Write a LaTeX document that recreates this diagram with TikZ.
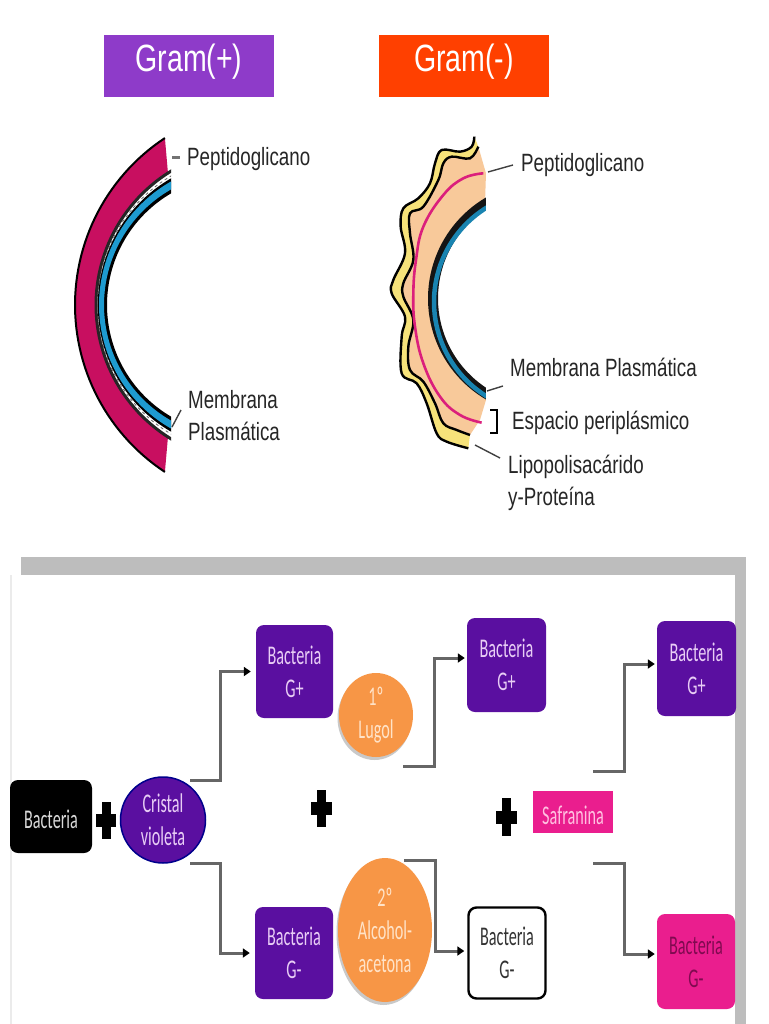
\documentclass[tikz,border=0pt]{standalone}
\usepackage{fontspec}
\setmainfont{Liberation Sans}
\newfontfamily\calib{Carlito}
\usetikzlibrary{arrows.meta,shadows,shapes.geometric}
\definecolor{gpos}{HTML}{8E3BC9}
\definecolor{gneg}{HTML}{FF4000}
\definecolor{wallm}{HTML}{C80F60}
\definecolor{memb}{HTML}{1E9BD0}
\definecolor{peach}{HTML}{F8C99A}
\definecolor{lps}{HTML}{F6E27A}
\definecolor{pgline}{HTML}{DB1F7C}
\definecolor{violetbox}{HTML}{5A0FA0}
\definecolor{lilac}{HTML}{E8CDF5}
\definecolor{orangeb}{HTML}{F79646}
\definecolor{paleor}{HTML}{FFE3C8}
\definecolor{safr}{HTML}{EA1E8E}
\definecolor{palepink}{HTML}{FFC0E0}
\definecolor{darkpink}{HTML}{800A50}
\definecolor{framegray}{HTML}{BDBDBD}
\newcommand{\hcond}[1]{\scalebox{.75}[1]{#1}}
\newcommand{\lcond}[1]{\scalebox{.6}[1]{#1}}
% a plus sign: centre x, centre y, overall width and height, arm thicknesses
\newcommand{\plusmark}[6]{%
  \fill[black] (#1-#3/2,#2-#6/2) rectangle (#1+#3/2,#2+#6/2);
  \fill[black] (#1-#5/2,#2-#4/2) rectangle (#1+#5/2,#2+#4/2);
}
\tikzset{
  header/.style={minimum width=170pt,minimum height=62pt,inner sep=0pt,text=white,
    font=\fontsize{38}{40}\selectfont},
  lbl/.style={anchor=west,inner sep=0pt,align=left,text=black!85,
    font=\fontsize{25}{32}\selectfont},
  leader/.style={draw=black!75,line width=1.4pt},
  stepbox/.style={rounded corners=8pt,inner sep=0pt,align=center,
    font=\calib\fontsize{27}{33}\selectfont},
  violetstep/.style={stepbox,fill=violetbox,text=lilac},
  softshadow/.style={drop shadow={shadow xshift=-1.5pt,shadow yshift=-3pt,fill=black!35,opacity=.6}},
  reagent/.style={ellipse,inner sep=0pt,align=center,fill=orangeb,text=paleor,
    font=\calib\fontsize{27}{33}\selectfont},
  conn/.style={draw=black!60,line width=3pt,
    -{Triangle[length=7pt,width=9pt,fill=black,color=black]}},
  ringline/.style={line width=2.4pt,black},
}
\begin{document}
\begin{tikzpicture}[x=1pt,y=-1pt]
\useasboundingbox[fill=white] (0,0) rectangle (768,1024);

% column titles
\node[header,fill=gpos] (tplus) at (189,66) {};
\node[text=white,inner sep=0pt,font=\fontsize{38}{40}\selectfont] (tplustxt) at (189,62) {\hcond{Gram(+)}};
\node[header,fill=gneg] (tminus) at (464,66) {};
\node[text=white,inner sep=0pt,font=\fontsize{38}{40}\selectfont] (tminustxt) at (464,62) {\hcond{Gram(-)}};

% Gram-positive envelope
\fill[wallm] plot[domain=123.4:236.6,samples=60] ({275+200*cos(\x)},{305+200*sin(\x)})
  -- plot[domain=237.2:122.8,samples=60] ({253+157*cos(\x)},{305+157*sin(\x)}) -- cycle;
\draw[line width=2pt,black] plot[domain=123.4:236.6,samples=60] ({275+200*cos(\x)},{305+200*sin(\x)});
\begin{scope}
  \clip (60,120) rectangle (171,490);
  \draw[line width=3pt,black!85] plot[domain=115:245,samples=60] ({253+157*cos(\x)},{305+157*sin(\x)});
  \draw[line width=.8pt,black!60,dash pattern=on 3pt off 3pt] plot[domain=115:245,samples=60] ({247.5+150*cos(\x)},{305+150*sin(\x)});
  \fill[black] plot[domain=115:245,samples=60] ({244+146.2*cos(\x)},{305+146.2*sin(\x)})
    -- plot[domain=245:115,samples=60] ({236.3+129.3*cos(\x)},{305+129.3*sin(\x)}) -- cycle;
  \fill[memb] plot[domain=115:245,samples=60] ({241+142*cos(\x)},{305+142*sin(\x)})
    -- plot[domain=245:115,samples=60] ({237.2+133.2*cos(\x)},{305+133.2*sin(\x)}) -- cycle;
\end{scope}

% Gram-negative envelope
\begin{scope}[shift={(380,120)},x=.3333pt,y=-.3333pt]
  \fill[peach] plot[smooth,tension=.6] coordinates {(295,80) (270,115) (215,110) (190,130) (175,180) (130,260) (90,280) (90,340) (100,420) (70,490) (70,530) (100,600) (85,680) (90,750) (130,785) (165,850) (190,910) (230,930) (270,945)}
    -- (300,900) -- (318,840)
    -- plot[domain=237.6:122.4,samples=50] ({495+336*cos(\x)},{535.5-336*sin(\x)})
    -- (318,160) -- cycle;
  \fill[lps] plot[smooth,tension=.6] coordinates {(283,50) (275,80) (240,95) (185,90) (165,130) (150,190) (115,235) (70,265) (62,320) (75,400) (40,480) (35,520) (75,590) (65,650) (65,760) (110,790) (140,850) (170,940) (200,965) (265,985)}
    -- plot[smooth,tension=.6] coordinates {(270,945) (230,930) (190,910) (165,850) (130,785) (90,750) (85,680) (100,600) (70,530) (70,490) (100,420) (90,340) (90,280) (130,260) (175,180) (190,130) (215,110) (270,115) (295,80)} -- cycle;
  \draw[ringline] plot[smooth,tension=.6] coordinates {(283,50) (275,80) (240,95) (185,90) (165,130) (150,190) (115,235) (70,265) (62,320) (75,400) (40,480) (35,520) (75,590) (65,650) (65,760) (110,790) (140,850) (170,940) (200,965) (265,985)};
  \draw[ringline] plot[smooth,tension=.6] coordinates {(295,80) (270,115) (215,110) (190,130) (175,180) (130,260) (90,280) (90,340) (100,420) (70,490) (70,530) (100,600) (85,680) (90,750) (130,785) (165,850) (190,910) (230,930) (270,945)};
  \draw[line width=2.6pt,pgline] plot[smooth,tension=.7] coordinates {(310,160) (250,175) (190,225) (130,320) (108,420) (100,520) (105,620) (130,730) (180,830) (240,885) (305,908)};
  \begin{scope}
    \clip (100,150) rectangle (318,900);
    \draw[line width=10pt,black!92] plot[domain=115:245,samples=50] ({495+336*cos(\x)},{535.5+336*sin(\x)});
    \draw[line width=4.5pt,memb!85!black] plot[domain=115:245,samples=50] ({495+333*cos(\x)},{546+333*sin(\x)});
  \end{scope}
\end{scope}

% envelope labels and their leader lines
\node[lbl] (pg1) at (187,159) {\hcond{Peptidoglicano}};
\node[lbl] (mp1) at (188,416) {\hcond{Membrana}\\\hcond{Plasmática}};
\node[lbl] (pg2) at (521,165) {\hcond{Peptidoglicano}};
\node[lbl] (mp2) at (510,367) {\hcond{Membrana Plasmática}};
\node[lbl] (ep2) at (512,423) {\hcond{Espacio periplásmico}};
\node[lbl] (lp2) at (508,483) {\hcond{Lipopolisacárido}\\\hcond{y-Proteína}};
\coordinate (w1) at (172,158); \coordinate (w2) at (180,158);
\draw[line width=3pt,black!55] (w1) -- (w2);
\coordinate (m1) at (172,427); \coordinate (m2) at (181,410);
\draw[leader] (m1) -- (m2);
\coordinate (n1) at (488,172); \coordinate (n2) at (513,165);
\draw[leader] (n1) -- (n2);
\coordinate (n3) at (487,391); \coordinate (n4) at (503,386);
\draw[leader] (n3) -- (n4);
\coordinate (n5) at (475,445); \coordinate (n6) at (500,458);
\draw[leader] (n5) -- (n6);
\coordinate (b1) at (490,410); \coordinate (b2) at (497,410);
\coordinate (b3) at (497,433); \coordinate (b4) at (490,433);
\draw[line width=1.8pt,black] (b1) -- (b2) -- (b3) -- (b4);

% frame of the staining panel
\fill[black!8] (10,575) rectangle (12,1024);
\fill[framegray] (21,557) rectangle (746,575);
\fill[framegray] (735,557) rectangle (746,1024);

% staining steps
\node[stepbox,fill=black,text=white!85!black,minimum width=82pt,minimum height=73pt] (bact) at (51,816.5) {\raisebox{-3pt}[\height][\depth]{\lcond{Bacteria}}};
\node[ellipse,draw=blue!55!black,line width=1.5pt,fill=violetbox,text=lilac,minimum width=85pt,minimum height=86pt,inner sep=0pt,align=center,font=\calib\fontsize{27}{33}\selectfont] (cv) at (163,820) {\lcond{Cristal}\\\lcond{violeta}};

\node[violetstep,minimum width=77pt,minimum height=93pt] (gp1) at (294.5,671.5) {\lcond{Bacteria}\\\lcond{G+}};
\node[violetstep,minimum width=78pt,minimum height=92pt] (gn1) at (294,953) {\lcond{Bacteria}\\\lcond{G-}};
\node[violetstep,minimum width=79pt,minimum height=94pt] (gp2) at (506.5,665) {\lcond{Bacteria}\\\lcond{G+}};
\node[stepbox,draw=black,line width=2.4pt,fill=white,text=black!80,minimum width=77pt,minimum height=91pt] (gn2) at (507,953) {\lcond{Bacteria}\\\lcond{G-}};
\node[violetstep,minimum width=79pt,minimum height=95pt] (gp3) at (696.5,668.5) {\lcond{Bacteria}\\\lcond{G+}};
\node[stepbox,fill=safr,text=darkpink,minimum width=78pt,minimum height=95pt] (gn3) at (696,961.5) {\lcond{Bacteria}\\\lcond{G-}};

\node[reagent,softshadow,minimum width=74pt,minimum height=84pt] (lugol) at (376,715) {\lcond{1º}\\\lcond{Lugol}};
\node[reagent,softshadow,minimum width=94pt,minimum height=144pt] (alc) at (385,930) {\lcond{2º}\\\lcond{Alcohol-}\\\lcond{acetona}};
\node[fill=safr,text=palepink,minimum width=80pt,minimum height=42pt,inner sep=0pt,font=\calib\fontsize{27}{33}\selectfont] (saf) at (573,812) {\raisebox{-3pt}[\height][\depth]{\lcond{Safranina}}};

\plusmark{106}{820}{20}{37}{9}{13}
\plusmark{321}{808}{21}{37}{9}{13}
\plusmark{506}{817}{21}{38}{9}{13}

% connectors, each starting from a free end beside its reagent
\coordinate (s1) at (190,780); \coordinate (s2) at (190,863);
\coordinate (s3) at (403,766); \coordinate (s4) at (404,860);
\coordinate (s5) at (593,771); \coordinate (s6) at (593,863);
\draw[conn] (s1) -- ++(30,0) |- ([xshift=-5pt]gp1.west);
\draw[conn] (s2) -- ++(30,0) |- ([xshift=-5pt]gn1.west);
\draw[conn] (s3) -- ++(31,0) |- ([xshift=-2pt,yshift=7pt]gp2.west);
\draw[conn] (s4) -- ++(31,0) |- ([xshift=-3pt,yshift=2pt]gn2.west);
\draw[conn] (s5) -- ++(31,0) |- ([xshift=-2pt,yshift=4.5pt]gp3.west);
\draw[conn] (s6) -- ++(31,0) |- ([xshift=-2pt,yshift=7.5pt]gn3.west);
\end{tikzpicture}
\end{document}
